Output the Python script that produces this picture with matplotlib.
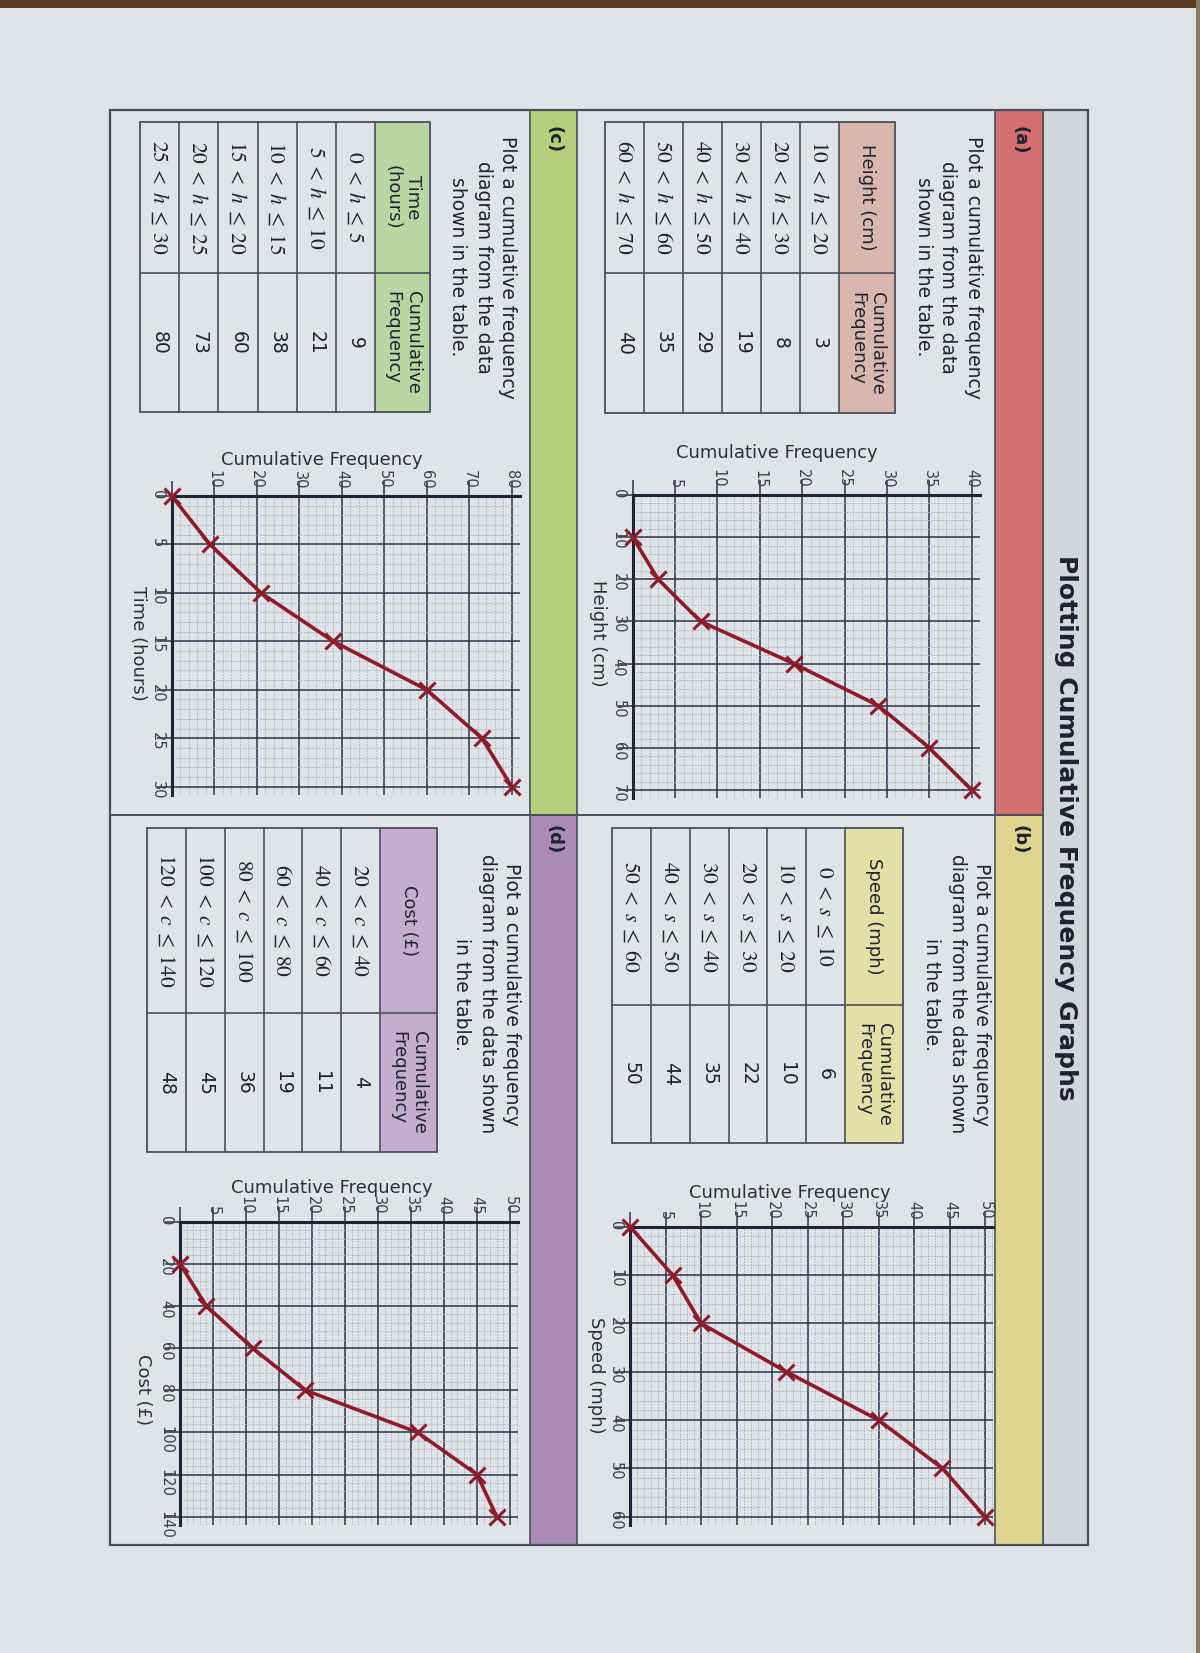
import numpy as np
import matplotlib
matplotlib.use("Agg")
import matplotlib.pyplot as plt
from matplotlib.patches import Rectangle
from matplotlib.ticker import MultipleLocator

plt.rcParams['font.family'] = ['DejaVu Sans']
plt.rcParams['mathtext.fontset'] = 'stix'

# ---------------- data ----------------
title = "Plotting Cumulative Frequency Graphs"

a_lower = [10, 20, 30, 40, 50, 60]
a_upper = [20, 30, 40, 50, 60, 70]
a_cf = [3, 8, 19, 29, 35, 40]
a_header = ["Height (cm)", "Cumulative\nFrequency"]
a_var = "h"
a_axis_label = "Height (cm)"
a_cf_ticks = [0, 5, 10, 15, 20, 25, 30, 35, 40]
a_var_ticks = [0, 10, 20, 30, 40, 50, 60, 70]

b_lower = [0, 10, 20, 30, 40, 50]
b_upper = [10, 20, 30, 40, 50, 60]
b_cf = [6, 10, 22, 35, 44, 50]
b_header = ["Speed (mph)", "Cumulative\nFrequency"]
b_var = "s"
b_axis_label = "Speed (mph)"
b_cf_ticks = [0, 5, 10, 15, 20, 25, 30, 35, 40, 45, 50]
b_var_ticks = [0, 10, 20, 30, 40, 50, 60]

c_lower = [0, 5, 10, 15, 20, 25]
c_upper = [5, 10, 15, 20, 25, 30]
c_cf = [9, 21, 38, 60, 73, 80]
c_header = ["Time\n(hours)", "Cumulative\nFrequency"]
c_var = "h"
c_axis_label = "Time (hours)"
c_cf_ticks = [0, 10, 20, 30, 40, 50, 60, 70, 80]
c_var_ticks = [0, 5, 10, 15, 20, 25, 30]

d_lower = [20, 40, 60, 80, 100, 120]
d_upper = [40, 60, 80, 100, 120, 140]
d_cf = [4, 11, 19, 36, 45, 48]
d_header = ["Cost (£)", "Cumulative\nFrequency"]
d_var = "c"
d_axis_label = "Cost (£)"
d_cf_ticks = [0, 5, 10, 15, 20, 25, 30, 35, 40, 45, 50]
d_var_ticks = [0, 20, 40, 60, 80, 100, 120, 140]

instr_ac = "Plot a cumulative frequency\ndiagram from the data\nshown in the table."
instr_bd = "Plot a cumulative frequency\ndiagram from the data shown\nin the table."

# ---------------- figure ----------------
W, H = 1200, 1653
fig = plt.figure(figsize=(W / 100, H / 100), dpi=100)
paper = '#e0e4e9'
fig.patch.set_facecolor(paper)

bg = fig.add_axes([0, 0, 1, 1])
bg.set_xlim(0, W)
bg.set_ylim(H, 0)
bg.axis('off')
bg.set_zorder(0)

line_c = '#4a4f5c'
txt_c = '#1e2230'

# edges of the photo
bg.add_patch(Rectangle((0, 0), W, 8, fc='#5b3b22', ec='none'))
bg.add_patch(Rectangle((1196, 0), 4, H, fc='#8a7a6a', ec='none'))

# worksheet frame
FX0, FX1, FY0, FY1 = 110, 1088, 110, 1545
bg.add_patch(Rectangle((1043, FY0), FX1 - 1043, FY1 - FY0, fc='#d3d6da', ec=line_c, lw=1.4))
bg.text(1066, 828, title, rotation=-90, ha='center', va='center',
        fontsize=18, fontweight='bold', color=txt_c)

# header bars
bars = [
    ((995, 110), 48, 705, '#d4706f', '(a)', 140),
    ((995, 815), 48, 730, '#ded58f', '(b)', 840),
    ((530, 110), 47, 705, '#b5cf7a', '(c)', 140),
    ((530, 815), 47, 730, '#a98bb6', '(d)', 840),
]
for (x, y), w, h, col, lab, ly in bars:
    bg.add_patch(Rectangle((x, y), w, h, fc=col, ec=line_c, lw=1.2))
    bg.text(x + w / 2, ly, lab, rotation=-90, ha='center', va='center',
            fontsize=13, fontweight='bold', color=txt_c)

bg.add_patch(Rectangle((FX0, FY0), FX1 - FX0, FY1 - FY0, fc='none', ec=line_c, lw=1.6))
bg.plot([FX0, 1043], [815, 815], color=line_c, lw=1.4)

# instructions
for cx, cy, txt in [(948, 267, instr_ac), (957, 994, instr_bd),
                    (483, 267, instr_ac), (487, 994, instr_bd)]:
    bg.text(cx, cy, txt, rotation=-90, ha='center', va='center', multialignment='center',
            fontsize=13.5, color=txt_c, linespacing=1.4)


def draw_table(xl, xr, hw, yt, yd, yb, hcol, header, lower, upper, cf, var):
    n = len(cf)
    rw = (xr - hw - xl) / n
    bg.add_patch(Rectangle((xr - hw, yt), hw, yb - yt, fc=hcol, ec='none'))
    bg.add_patch(Rectangle((xl, yt), xr - xl, yb - yt, fc='none', ec=line_c, lw=1.3))
    bg.plot([xl, xr], [yd, yd], color=line_c, lw=1.2)
    for i in range(n):
        xb = xr - hw - i * rw
        bg.plot([xb, xb], [yt, yb], color=line_c, lw=1.2)
    hc = xr - hw / 2
    bg.text(hc, (yt + yd) / 2, header[0], rotation=-90, ha='center', va='center',
            multialignment='center', fontsize=13, color=txt_c, linespacing=1.15)
    bg.text(hc, (yd + yb) / 2, header[1], rotation=-90, ha='center', va='center',
            multialignment='left', fontsize=13, color=txt_c, linespacing=1.15)
    for i in range(n):
        rc = xr - hw - (i + 0.5) * rw
        bg.text(rc, (yt + yd) / 2,
                r"$%d\;<\;%s\;\leq\;%d$" % (lower[i], var, upper[i]),
                rotation=-90, ha='center', va='center', fontsize=15.5, color=txt_c)
        bg.text(rc, (yd + yb) / 2, str(cf[i]), rotation=-90, ha='center', va='center',
                fontsize=13.5, color=txt_c)


draw_table(605, 895, 56, 122, 273, 413, '#d9b7ae', a_header, a_lower, a_upper, a_cf, a_var)
draw_table(612, 903, 58, 828, 1005, 1143, '#e2e0a6', b_header, b_lower, b_upper, b_cf, b_var)
draw_table(140, 430, 55, 122, 273, 412, '#b8d7a2', c_header, c_lower, c_upper, c_cf, c_var)
draw_table(147, 437, 57, 828, 1013, 1152, '#c3aed0', d_header, d_lower, d_upper, d_cf, d_var)


def chart(cf_px0, cf_px1, v_px0, v_px1, cf_ticks, v_ticks, cf_minor, v_minor,
          lower, upper, cf, var_label, lab_xy, cf_lab_xy):
    cf_max = cf_ticks[-1]
    v_max = v_ticks[-1]
    ext = 8
    sx = (cf_px1 - cf_px0) / cf_max
    sy = (v_px1 - v_px0) / v_max
    left, right = cf_px0, cf_px1 + ext
    top, bottom = v_px0, v_px1 + ext
    ax = fig.add_axes([left / W, 1 - bottom / H, (right - left) / W, (bottom - top) / H])
    ax.set_zorder(2)
    ax.patch.set_alpha(0)
    ax.set_xlim(0, cf_max + ext / sx)
    ax.set_ylim(v_max + ext / sy, 0)
    ax.xaxis.tick_top()
    ax.set_xticks(cf_ticks)
    ax.set_xticklabels(['' if t == 0 else str(t) for t in cf_ticks])
    ax.set_yticks(v_ticks)
    ax.set_yticklabels([str(t) for t in v_ticks])
    ax.xaxis.set_minor_locator(MultipleLocator(cf_minor))
    ax.yaxis.set_minor_locator(MultipleLocator(v_minor))
    ax.tick_params(which='major', direction='out', length=11, width=1.1, color='#2b3444',
                   pad=-6, labelsize=10.5, labelcolor='#3a404c')
    ax.tick_params(axis='x', labelrotation=-90)
    ax.tick_params(axis='y', labelrotation=-90)
    ax.tick_params(which='minor', length=0)
    ax.grid(which='major', color='#2b3444', lw=1.1)
    ax.grid(which='minor', color='#aab2bd', lw=0.6, ls=(0, (2, 1.5)))
    for s in ['right', 'bottom']:
        ax.spines[s].set_visible(False)
    for s in ['top', 'left']:
        ax.spines[s].set_linewidth(2.2)
        ax.spines[s].set_color('#1f2633')
    xs = [0] + list(cf)
    ys = [lower[0]] + list(upper)
    ax.plot(xs, ys, color='#8e1b2c', lw=2.6, marker='x', ms=11, mew=2.2,
            zorder=5, clip_on=False)
    bg.text(lab_xy[0], lab_xy[1], var_label, rotation=-90, ha='center', va='center',
            fontsize=13, color='#2a2f3a')
    bg.text(cf_lab_xy[0], cf_lab_xy[1], "Cumulative Frequency", ha='center', va='center',
            fontsize=13, color='#2a2f3a')
    return ax


chart(632.7, 971.7, 495, 790, a_cf_ticks, a_var_ticks, 1, 2,
      a_lower, a_upper, a_cf, a_axis_label, (598, 633), (777, 453))
chart(630, 985, 1226.7, 1516.7, b_cf_ticks, b_var_ticks, 1, 2,
      b_lower, b_upper, b_cf, b_axis_label, (596, 1375), (790, 1193))
chart(171.7, 511.7, 496, 786.7, c_cf_ticks, c_var_ticks, 2, 1,
      c_lower, c_upper, c_cf, c_axis_label, (138, 643), (322, 460))
chart(180, 510, 1221.7, 1516.7, d_cf_ticks, d_var_ticks, 1, 4,
      d_lower, d_upper, d_cf, d_axis_label, (143, 1390), (332, 1188))

fig.savefig("out.png", dpi=100, facecolor=fig.get_facecolor())
